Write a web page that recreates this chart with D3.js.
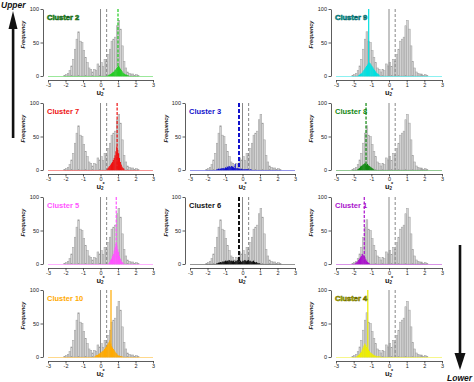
<!DOCTYPE html>
<html><head><meta charset="utf-8">
<script src="https://cdn.jsdelivr.net/npm/d3@7"></script>
<style>body{margin:0;background:#fff}svg{display:block}text{font-family:"Liberation Sans",Arial,sans-serif}</style>
</head><body><svg id="c" width="474" height="382"></svg>
<script>
// Background histogram (all cells), bin width 0.1
const bgStart = -2.1, bgWidth = 0.1;
const bgCounts = [1,2,4,8,15,25,40,55,66,52,50,38,28,20,12,10,6,10,8,18,15,20,14,25,22,32,40,52,55,58,75,83,70,45,22,12,6,4,3,3,1,2,1];
const xTicks = [-3,-2,-1,0,1,2,3];
const yTicks = [0,50,100];
const zeroLine = 0, dashedRef = 0.35;

const clusters = ["Cluster 2","Cluster 7","Cluster 5","Cluster 10","Cluster 3","Cluster 6","Cluster 9","Cluster 8","Cluster 1","Cluster 4"];
const colors   = ["#22cc22","#ee1111","#ff55ff","#ffaa00","#1111cc","#111111","#00e0e0","#118811","#aa11cc","#eeee00"];
const outlines = ["#1d5e1d",null,null,null,null,null,"#0b6060",null,null,"#6a6a00"];
const meanPos  = [1.0,0.95,0.9,0.6,-0.2,-0.2,-1.15,-1.3,-1.4,-1.2];
const meanDash = [true,true,true,false,true,true,false,true,true,false];
const gridCol  = [0,0,0,0,1,1,2,2,2,2];
const gridRow  = [0,1,2,3,1,2,0,1,2,3];
const cWidth = 0.05;
const cStart = [0.4,0.35,0.45,-0.35,-1.5,-1.5,-1.75,-1.8,-1.95,-1.85];
const cCounts = [
 [1,2,2,3,4,5,6,7,9,10,12,14,15,13,11,9,7,5,4,3,2,2,1,1],
 [1,3,5,6,8,10,12,15,18,22,28,35,30,25,18,12,8,5,3,2],
 [1,3,6,8,12,15,20,25,30,28,22,18,12,8,5,3,2],
 [1,2,3,3,4,5,6,7,8,9,10,12,14,15,18,20,22,25,20,16,14,12,10,8,6,5,3,2,2,1,1,1],
 [1,1,2,1,2,2,3,2,3,2,4,3,5,4,6,5,4,6,5,4,3,9,3,2,3,2,2,1,2,1,1,1,1,1,1,1,1,0,1,1],
 [1,1,2,2,3,2,3,4,3,4,5,4,5,4,6,5,4,5,4,5,3,4,5,4,6,5,4,5,3,4,5,4,6,5,4,5,6,4,5,4,3,4,5,3,2,3,2,1,1,1],
 [1,2,3,4,5,7,9,11,13,15,17,19,20,19,17,15,13,11,9,7,5,4,3,2],
 [1,2,3,5,6,7,8,9,10,9,8,9,7,6,5,4,3,2,1],
 [1,2,3,4,6,8,10,12,15,14,12,10,7,5,3,2,1],
 [1,2,3,4,6,8,11,14,17,20,18,15,13,11,9,7,6,5,4,3,2,2,1,1,1,1,1]
];

const colX = [[48,153],[190,295],[336,442]];
const rowY = [[9,76],[103,170],[197,264],[290,357]];
const freqX = [25,168,313];

const svg = d3.select("#c");

clusters.forEach((name,i)=>{
  const [x0,x1] = colX[gridCol[i]];
  const [yt,yb] = rowY[gridRow[i]];
  const x = d3.scaleLinear().domain([-3,3]).range([x0,x1]);
  const y = d3.scaleLinear().domain([0,100]).range([yb,yt]);
  const g = svg.append("g");

  g.selectAll("rect.bg").data(bgCounts).join("rect")
    .attr("x",(d,k)=>x(bgStart+k*bgWidth))
    .attr("width",(d,k)=>x(bgStart+(k+1)*bgWidth)-x(bgStart+k*bgWidth))
    .attr("y",d=>y(d)).attr("height",d=>y(0)-y(d))
    .attr("fill","#d2d2d2").attr("stroke","#a0a0a0").attr("stroke-width",0.5);

  g.append("line").attr("x1",x(zeroLine)).attr("x2",x(zeroLine)).attr("y1",y(100)).attr("y2",y(0))
    .attr("stroke","#888").attr("stroke-width",1);
  g.append("line").attr("x1",x(dashedRef)).attr("x2",x(dashedRef)).attr("y1",y(100)).attr("y2",y(0))
    .attr("stroke","#888").attr("stroke-width",1).attr("stroke-dasharray","3,2");

  g.selectAll("rect.cl").data(cCounts[i]).join("rect")
    .attr("x",(d,k)=>x(cStart[i]+k*cWidth))
    .attr("width",(d,k)=>x(cStart[i]+(k+1)*cWidth)-x(cStart[i]+k*cWidth)+0.3)
    .attr("y",d=>y(d)).attr("height",d=>y(0)-y(d))
    .attr("fill",colors[i]);

  g.append("line").attr("x1",x(-3)).attr("x2",x(3)).attr("y1",y(0)+0.5).attr("y2",y(0)+0.5)
    .attr("stroke",colors[i]).attr("stroke-opacity",0.45).attr("stroke-width",1);

  const dash = meanDash[i];
  const thick = (i===4||i===5);
  g.append("line").attr("x1",x(meanPos[i])).attr("x2",x(meanPos[i])).attr("y1",y(100)).attr("y2",y(0))
    .attr("stroke",colors[i]).attr("stroke-width",thick?2:1.2)
    .attr("stroke-dasharray",dash?(thick?"4,2":"3,1.5"):null);

  const xa = g.append("g").attr("transform",`translate(0,${yb+4})`)
    .call(d3.axisBottom(x).tickValues(xTicks).tickSize(2.5).tickSizeOuter(0).tickPadding(1).tickFormat(d=>String(d)));
  const ya = g.append("g").attr("transform",`translate(${x0-5},0)`)
    .call(d3.axisLeft(y).tickValues(yTicks).tickSize(2.5).tickSizeOuter(0).tickPadding(1.5));
  [xa,ya].forEach(a=>{
    a.selectAll("text").attr("font-size",5.5).attr("fill","#222");
    a.selectAll("line,path").attr("stroke","#333").attr("stroke-width",0.8);
  });

  const xl = g.append("text").attr("x",(x0+x1)/2).attr("y",yb+18.5).attr("text-anchor","middle")
    .attr("font-size",7.5).attr("font-weight","bold").attr("fill","#222");
  xl.append("tspan").text("u");
  xl.append("tspan").attr("font-size",4.5).attr("dy",1.5).text("2");
  xl.append("tspan").attr("font-size",5.5).attr("dx",-1.2).attr("dy",-4.2).text("*");

  g.append("text").attr("transform",`translate(${freqX[gridCol[i]]},${(yt+yb)/2-8}) rotate(-90)`)
    .attr("text-anchor","middle").attr("font-size",5.5).attr("font-weight","bold").attr("font-style","italic")
    .attr("fill","#222").text("Frequency");

  const t = g.append("text").attr("x",x0-1).attr("y",yt+11).attr("font-size",7.5).attr("font-weight","bold")
    .attr("fill",colors[i]).text(name);
  if (outlines[i]) t.attr("stroke",outlines[i]).attr("stroke-width",0.6);
});

svg.append("rect").attr("x",11.8).attr("y",27).attr("width",2.6).attr("height",111).attr("fill","#111");
svg.append("path").attr("d","M13,11 L8.5,29 L17.5,29 Z").attr("fill","#111");
svg.append("text").attr("x",1).attr("y",8).attr("font-size",8.5).attr("font-weight","bold").attr("font-style","italic").attr("fill","#111").text("Upper");

svg.append("rect").attr("x",458.7).attr("y",245).attr("width",2.6).attr("height",110).attr("fill","#111");
svg.append("path").attr("d","M460,370 L454.5,353 L465.5,353 Z").attr("fill","#111");
svg.append("text").attr("x",447).attr("y",381).attr("font-size",8.5).attr("font-weight","bold").attr("font-style","italic").attr("fill","#111").text("Lower");
</script></body></html>
